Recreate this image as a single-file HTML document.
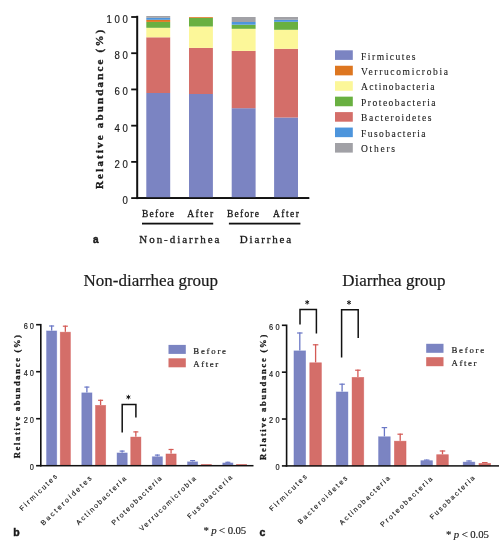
<!DOCTYPE html>
<html><head><meta charset="utf-8"><style>
html,body{margin:0;padding:0;background:#fff;}
body{width:500px;height:544px;overflow:hidden;font-family:"Liberation Sans",sans-serif;}
svg{display:block;will-change:transform;}
</style></head><body>
<svg width="500" height="544" viewBox="0 0 500 544">
<rect width="500" height="544" fill="#fff"/>
<rect x="136.20" y="15.80" width="2.00" height="183.30" fill="#111" />
<rect x="136.20" y="197.20" width="173.00" height="1.80" fill="#111" />
<rect x="131.20" y="197.20" width="6.00" height="1.80" fill="#111" />
<text transform="translate(0,203.9) scale(1,1.1)" x="122.4" y="0" font-family="Liberation Sans" font-size="9.6" fill="#1a1a1a" stroke="#1a1a1a" stroke-width="0.15">0</text>
<rect x="131.20" y="160.98" width="6.00" height="1.80" fill="#111" />
<text transform="translate(0,167.7) scale(1,1.1)" x="114.4 122.4" y="0" font-family="Liberation Sans" font-size="9.6" fill="#1a1a1a" stroke="#1a1a1a" stroke-width="0.15">20</text>
<rect x="131.20" y="124.76" width="6.00" height="1.80" fill="#111" />
<text transform="translate(0,131.5) scale(1,1.1)" x="114.4 122.4" y="0" font-family="Liberation Sans" font-size="9.6" fill="#1a1a1a" stroke="#1a1a1a" stroke-width="0.15">40</text>
<rect x="131.20" y="88.54" width="6.00" height="1.80" fill="#111" />
<text transform="translate(0,95.2) scale(1,1.1)" x="114.4 122.4" y="0" font-family="Liberation Sans" font-size="9.6" fill="#1a1a1a" stroke="#1a1a1a" stroke-width="0.15">60</text>
<rect x="131.20" y="52.32" width="6.00" height="1.80" fill="#111" />
<text transform="translate(0,59.0) scale(1,1.1)" x="114.4 122.4" y="0" font-family="Liberation Sans" font-size="9.6" fill="#1a1a1a" stroke="#1a1a1a" stroke-width="0.15">80</text>
<rect x="131.20" y="16.10" width="6.00" height="1.80" fill="#111" />
<text transform="translate(0,22.8) scale(1,1.1)" x="106.4 114.4 122.4" y="0" font-family="Liberation Sans" font-size="9.6" fill="#1a1a1a" stroke="#1a1a1a" stroke-width="0.15">100</text>
<rect x="146.30" y="93.00" width="23.90" height="105.10" fill="#7b84c2" />
<rect x="146.30" y="37.30" width="23.90" height="55.70" fill="#d46e69" />
<rect x="146.30" y="27.80" width="23.90" height="9.50" fill="#fcf799" />
<rect x="146.30" y="21.90" width="23.90" height="5.90" fill="#69b041" />
<rect x="146.30" y="19.80" width="23.90" height="2.10" fill="#dd7620" />
<rect x="146.30" y="17.80" width="23.90" height="2.00" fill="#4d95dc" />
<rect x="146.30" y="16.00" width="23.90" height="1.80" fill="#a1a1a6" />
<rect x="189.00" y="94.00" width="23.90" height="104.10" fill="#7b84c2" />
<rect x="189.00" y="47.90" width="23.90" height="46.10" fill="#d46e69" />
<rect x="189.00" y="26.50" width="23.90" height="21.40" fill="#fcf799" />
<rect x="189.00" y="18.00" width="23.90" height="8.50" fill="#69b041" />
<rect x="189.00" y="17.20" width="23.90" height="0.80" fill="#dd7620" />
<rect x="231.70" y="108.20" width="23.90" height="89.90" fill="#7b84c2" />
<rect x="231.70" y="50.90" width="23.90" height="57.30" fill="#d46e69" />
<rect x="231.70" y="28.80" width="23.90" height="22.10" fill="#fcf799" />
<rect x="231.70" y="24.70" width="23.90" height="4.10" fill="#69b041" />
<rect x="231.70" y="22.00" width="23.90" height="2.70" fill="#4d95dc" />
<rect x="231.70" y="17.00" width="23.90" height="5.00" fill="#a1a1a6" />
<rect x="274.10" y="117.50" width="23.90" height="80.60" fill="#7b84c2" />
<rect x="274.10" y="48.80" width="23.90" height="68.70" fill="#d46e69" />
<rect x="274.10" y="29.80" width="23.90" height="19.00" fill="#fcf799" />
<rect x="274.10" y="21.80" width="23.90" height="8.00" fill="#69b041" />
<rect x="274.10" y="19.80" width="23.90" height="2.00" fill="#4d95dc" />
<rect x="274.10" y="17.00" width="23.90" height="2.80" fill="#a1a1a6" />
<rect x="136.20" y="197.20" width="173.00" height="1.80" fill="#111" />
<text x="142" y="216.8" font-family="Liberation Serif" font-size="9.5" font-weight="normal" letter-spacing="1.22" text-anchor="start" fill="#1a1a1a" stroke="#1a1a1a" stroke-width="0.3" >Before</text>
<text x="187.3" y="216.8" font-family="Liberation Serif" font-size="9.5" font-weight="normal" letter-spacing="1.45" text-anchor="start" fill="#1a1a1a" stroke="#1a1a1a" stroke-width="0.3" >After</text>
<text x="227.0" y="216.8" font-family="Liberation Serif" font-size="9.5" font-weight="normal" letter-spacing="1.22" text-anchor="start" fill="#1a1a1a" stroke="#1a1a1a" stroke-width="0.3" >Before</text>
<text x="273.0" y="216.8" font-family="Liberation Serif" font-size="9.5" font-weight="normal" letter-spacing="1.45" text-anchor="start" fill="#1a1a1a" stroke="#1a1a1a" stroke-width="0.3" >After</text>
<rect x="142.00" y="222.70" width="71.20" height="1.80" fill="#111" />
<rect x="228.90" y="222.70" width="71.50" height="1.80" fill="#111" />
<text x="139.3" y="242.5" font-family="Liberation Serif" font-size="11" font-weight="normal" letter-spacing="1.95" text-anchor="start" fill="#1a1a1a" stroke="#1a1a1a" stroke-width="0.3" >Non-diarrhea</text>
<text x="239.7" y="242.5" font-family="Liberation Serif" font-size="11" font-weight="normal" letter-spacing="1.87" text-anchor="start" fill="#1a1a1a" stroke="#1a1a1a" stroke-width="0.3" >Diarrhea</text>
<text x="93" y="243" font-family="Liberation Sans" font-size="10" font-weight="bold" letter-spacing="0" text-anchor="start" fill="#1a1a1a" stroke="#1a1a1a" stroke-width="0.45" >a</text>
<text transform="translate(102.5,189.0) rotate(-90)" x="0" y="0" font-family="Liberation Serif" font-size="11" font-weight="bold" letter-spacing="2.17" fill="#1a1a1a" stroke="#1a1a1a" stroke-width="0.35">Relative abundance (%)</text>
<rect x="335.00" y="50.30" width="17.80" height="9.60" fill="#7b84c2" />
<text x="361" y="59.5" font-family="Liberation Serif" font-size="9.5" font-weight="normal" letter-spacing="1.54" text-anchor="start" fill="#1a1a1a" stroke="#1a1a1a" stroke-width="0.1" >Firmicutes</text>
<rect x="335.00" y="65.75" width="17.80" height="9.60" fill="#dd7620" />
<text x="361" y="74.95" font-family="Liberation Serif" font-size="9.5" font-weight="normal" letter-spacing="1.65" text-anchor="start" fill="#1a1a1a" stroke="#1a1a1a" stroke-width="0.1" >Verrucomicrobia</text>
<rect x="335.00" y="81.20" width="17.80" height="9.60" fill="#fcf799" />
<text x="361" y="90.39999999999999" font-family="Liberation Serif" font-size="9.5" font-weight="normal" letter-spacing="1.35" text-anchor="start" fill="#1a1a1a" stroke="#1a1a1a" stroke-width="0.1" >Actinobacteria</text>
<rect x="335.00" y="96.65" width="17.80" height="9.60" fill="#69b041" />
<text x="361" y="105.85" font-family="Liberation Serif" font-size="9.5" font-weight="normal" letter-spacing="1.51" text-anchor="start" fill="#1a1a1a" stroke="#1a1a1a" stroke-width="0.1" >Proteobacteria</text>
<rect x="335.00" y="112.10" width="17.80" height="9.60" fill="#d46e69" />
<text x="361" y="121.3" font-family="Liberation Serif" font-size="9.5" font-weight="normal" letter-spacing="1.57" text-anchor="start" fill="#1a1a1a" stroke="#1a1a1a" stroke-width="0.1" >Bacteroidetes</text>
<rect x="335.00" y="127.55" width="17.80" height="9.60" fill="#4d95dc" />
<text x="361" y="136.75" font-family="Liberation Serif" font-size="9.5" font-weight="normal" letter-spacing="1.45" text-anchor="start" fill="#1a1a1a" stroke="#1a1a1a" stroke-width="0.1" >Fusobacteria</text>
<rect x="335.00" y="143.00" width="17.80" height="9.60" fill="#a1a1a6" />
<text x="361" y="152.2" font-family="Liberation Serif" font-size="9.5" font-weight="normal" letter-spacing="1.73" text-anchor="start" fill="#1a1a1a" stroke="#1a1a1a" stroke-width="0.1" >Others</text>
<rect x="40.00" y="323.90" width="1.60" height="142.60" fill="#111" />
<rect x="36.10" y="464.90" width="4.10" height="1.60" fill="#111" />
<text transform="translate(0,470.1) scale(1,1.18)" x="29.7" y="0" font-family="Liberation Sans" font-size="7.4" fill="#1a1a1a" stroke="#1a1a1a" stroke-width="0.15">0</text>
<rect x="36.10" y="417.90" width="4.10" height="1.60" fill="#111" />
<text transform="translate(0,423.1) scale(1,1.18)" x="23.7 29.7" y="0" font-family="Liberation Sans" font-size="7.4" fill="#1a1a1a" stroke="#1a1a1a" stroke-width="0.15">20</text>
<rect x="36.10" y="370.90" width="4.10" height="1.60" fill="#111" />
<text transform="translate(0,376.1) scale(1,1.18)" x="23.7 29.7" y="0" font-family="Liberation Sans" font-size="7.4" fill="#1a1a1a" stroke="#1a1a1a" stroke-width="0.15">40</text>
<rect x="36.10" y="323.90" width="4.10" height="1.60" fill="#111" />
<text transform="translate(0,329.1) scale(1,1.18)" x="23.7 29.7" y="0" font-family="Liberation Sans" font-size="7.4" fill="#1a1a1a" stroke="#1a1a1a" stroke-width="0.15">60</text>
<rect x="51.00" y="325.40" width="1.30" height="5.20" fill="#6b78c6" />
<rect x="49.15" y="325.40" width="5.00" height="1.20" fill="#6b78c6" />
<rect x="46.55" y="330.95" width="10.20" height="134.75" fill="#7b84c2" stroke="#6b78c6" stroke-opacity="0.55" stroke-width="0.7"/>
<rect x="64.70" y="325.60" width="1.30" height="6.20" fill="#d45a55" />
<rect x="62.85" y="325.60" width="5.00" height="1.20" fill="#d45a55" />
<rect x="60.25" y="332.15" width="10.20" height="133.55" fill="#d46e69" stroke="#d45a55" stroke-opacity="0.55" stroke-width="0.7"/>
<rect x="86.24" y="386.50" width="1.30" height="6.00" fill="#6b78c6" />
<rect x="84.39" y="386.50" width="5.00" height="1.20" fill="#6b78c6" />
<rect x="81.79" y="392.85" width="10.20" height="72.85" fill="#7b84c2" stroke="#6b78c6" stroke-opacity="0.55" stroke-width="0.7"/>
<rect x="99.94" y="399.70" width="1.30" height="5.30" fill="#d45a55" />
<rect x="98.09" y="399.70" width="5.00" height="1.20" fill="#d45a55" />
<rect x="95.49" y="405.35" width="10.20" height="60.35" fill="#d46e69" stroke="#d45a55" stroke-opacity="0.55" stroke-width="0.7"/>
<rect x="121.48" y="450.50" width="1.30" height="2.10" fill="#6b78c6" />
<rect x="119.63" y="450.50" width="5.00" height="1.20" fill="#6b78c6" />
<rect x="117.03" y="452.95" width="10.20" height="12.75" fill="#7b84c2" stroke="#6b78c6" stroke-opacity="0.55" stroke-width="0.7"/>
<rect x="135.18" y="431.30" width="1.30" height="5.40" fill="#d45a55" />
<rect x="133.33" y="431.30" width="5.00" height="1.20" fill="#d45a55" />
<rect x="130.73" y="437.05" width="10.20" height="28.65" fill="#d46e69" stroke="#d45a55" stroke-opacity="0.55" stroke-width="0.7"/>
<rect x="156.72" y="454.50" width="1.30" height="1.90" fill="#6b78c6" />
<rect x="154.87" y="454.50" width="5.00" height="1.20" fill="#6b78c6" />
<rect x="152.27" y="456.75" width="10.20" height="8.95" fill="#7b84c2" stroke="#6b78c6" stroke-opacity="0.55" stroke-width="0.7"/>
<rect x="170.42" y="448.90" width="1.30" height="4.70" fill="#d45a55" />
<rect x="168.57" y="448.90" width="5.00" height="1.20" fill="#d45a55" />
<rect x="165.97" y="453.95" width="10.20" height="11.75" fill="#d46e69" stroke="#d45a55" stroke-opacity="0.55" stroke-width="0.7"/>
<rect x="191.96" y="460.00" width="1.30" height="1.50" fill="#6b78c6" />
<rect x="190.11" y="460.00" width="5.00" height="1.20" fill="#6b78c6" />
<rect x="187.51" y="461.85" width="10.20" height="3.85" fill="#7b84c2" stroke="#6b78c6" stroke-opacity="0.55" stroke-width="0.7"/>
<rect x="201.21" y="464.35" width="10.20" height="1.35" fill="#d46e69" stroke="#d45a55" stroke-opacity="0.55" stroke-width="0.7"/>
<rect x="227.20" y="461.70" width="1.30" height="0.90" fill="#6b78c6" />
<rect x="225.35" y="461.70" width="5.00" height="1.20" fill="#6b78c6" />
<rect x="222.75" y="462.95" width="10.20" height="2.75" fill="#7b84c2" stroke="#6b78c6" stroke-opacity="0.55" stroke-width="0.7"/>
<rect x="236.45" y="464.35" width="10.20" height="1.35" fill="#d46e69" stroke="#d45a55" stroke-opacity="0.55" stroke-width="0.7"/>
<rect x="40.00" y="464.95" width="213.50" height="1.50" fill="#111" />
<text transform="translate(58.8,475.8) rotate(-44)" x="0" y="0" font-family="Liberation Sans" font-size="7.0" letter-spacing="1.86" text-anchor="end" fill="#1a1a1a" stroke="#1a1a1a" stroke-width="0.15">Firmicutes</text>
<text transform="translate(93.4,477.5) rotate(-44)" x="0" y="0" font-family="Liberation Sans" font-size="7.0" letter-spacing="2.05" text-anchor="end" fill="#1a1a1a" stroke="#1a1a1a" stroke-width="0.15">Bacteroidetes</text>
<text transform="translate(127.7,478.2) rotate(-44)" x="0" y="0" font-family="Liberation Sans" font-size="7.0" letter-spacing="1.69" text-anchor="end" fill="#1a1a1a" stroke="#1a1a1a" stroke-width="0.15">Actinobacteria</text>
<text transform="translate(163.3,478.0) rotate(-44)" x="0" y="0" font-family="Liberation Sans" font-size="7.0" letter-spacing="1.62" text-anchor="end" fill="#1a1a1a" stroke="#1a1a1a" stroke-width="0.15">Proteobacteria</text>
<text transform="translate(197.5,478.0) rotate(-44)" x="0" y="0" font-family="Liberation Sans" font-size="7.0" letter-spacing="1.77" text-anchor="end" fill="#1a1a1a" stroke="#1a1a1a" stroke-width="0.15">Verrucomicrobia</text>
<text transform="translate(233.9,476.8) rotate(-44)" x="0" y="0" font-family="Liberation Sans" font-size="7.0" letter-spacing="1.7" text-anchor="end" fill="#1a1a1a" stroke="#1a1a1a" stroke-width="0.15">Fusobacteria</text>
<text x="83.6" y="285.6" font-family="Liberation Serif" font-size="17.0" font-weight="normal" letter-spacing="0" text-anchor="start" fill="#1a1a1a" stroke="#1a1a1a" stroke-width="0.2" >Non-diarrhea group</text>
<rect x="168.50" y="344.90" width="17.30" height="9.00" fill="#7b84c2" />
<rect x="168.50" y="358.30" width="17.30" height="9.00" fill="#d46e69" />
<text x="193.3" y="353.7" font-family="Liberation Serif" font-size="8.8" font-weight="normal" letter-spacing="1.75" text-anchor="start" fill="#1a1a1a" stroke="#1a1a1a" stroke-width="0.2" >Before</text>
<text x="193.3" y="366.9" font-family="Liberation Serif" font-size="8.8" font-weight="normal" letter-spacing="1.6" text-anchor="start" fill="#1a1a1a" stroke="#1a1a1a" stroke-width="0.2" >After</text>
<path d="M122.2,432.6 V404.4 H135.9 V417.6" fill="none" stroke="#111" stroke-width="1.5"/>
<path d="M128.40,395.25L128.40,398.95M126.80,396.17L130.00,398.02M130.00,396.17L126.80,398.02" stroke="#111" stroke-width="0.95" stroke-linecap="round" fill="none"/>
<text x="13.3" y="535.6" font-family="Liberation Sans" font-size="10.5" font-weight="bold" letter-spacing="0" text-anchor="start" fill="#1a1a1a" stroke="#1a1a1a" stroke-width="0.45" >b</text>
<text x="203.4" y="534" font-family="Liberation Serif" font-size="10.8" letter-spacing="-0.12" fill="#1a1a1a" stroke="#1a1a1a" stroke-width="0.15">* <tspan font-style="italic">p</tspan> &lt; 0.05</text>
<text transform="translate(20.3,458.2) rotate(-90)" x="0" y="0" font-family="Liberation Serif" font-size="8.5" font-weight="bold" letter-spacing="1.68" fill="#1a1a1a" stroke="#1a1a1a" stroke-width="0.3">Relative abundance (%)</text>
<rect x="285.80" y="324.50" width="1.60" height="142.20" fill="#111" />
<rect x="281.90" y="465.10" width="4.10" height="1.60" fill="#111" />
<text transform="translate(0,470.3) scale(1,1.18)" x="275.4" y="0" font-family="Liberation Sans" font-size="7.4" fill="#1a1a1a" stroke="#1a1a1a" stroke-width="0.15">0</text>
<rect x="281.90" y="418.23" width="4.10" height="1.60" fill="#111" />
<text transform="translate(0,423.4) scale(1,1.18)" x="269.0 275.4" y="0" font-family="Liberation Sans" font-size="7.4" fill="#1a1a1a" stroke="#1a1a1a" stroke-width="0.15">20</text>
<rect x="281.90" y="371.37" width="4.10" height="1.60" fill="#111" />
<text transform="translate(0,376.6) scale(1,1.18)" x="269.0 275.4" y="0" font-family="Liberation Sans" font-size="7.4" fill="#1a1a1a" stroke="#1a1a1a" stroke-width="0.15">40</text>
<rect x="281.90" y="324.50" width="4.10" height="1.60" fill="#111" />
<text transform="translate(0,329.7) scale(1,1.18)" x="269.0 275.4" y="0" font-family="Liberation Sans" font-size="7.4" fill="#1a1a1a" stroke="#1a1a1a" stroke-width="0.15">60</text>
<rect x="299.15" y="332.40" width="1.30" height="18.10" fill="#6b78c6" />
<rect x="297.05" y="332.40" width="5.50" height="1.20" fill="#6b78c6" />
<rect x="293.95" y="350.85" width="11.70" height="115.05" fill="#7b84c2" stroke="#6b78c6" stroke-opacity="0.55" stroke-width="0.7"/>
<rect x="314.95" y="344.20" width="1.30" height="18.20" fill="#d45a55" />
<rect x="312.85" y="344.20" width="5.50" height="1.20" fill="#d45a55" />
<rect x="309.75" y="362.75" width="11.70" height="103.15" fill="#d46e69" stroke="#d45a55" stroke-opacity="0.55" stroke-width="0.7"/>
<rect x="341.45" y="383.60" width="1.30" height="8.00" fill="#6b78c6" />
<rect x="339.35" y="383.60" width="5.50" height="1.20" fill="#6b78c6" />
<rect x="336.25" y="391.95" width="11.70" height="73.95" fill="#7b84c2" stroke="#6b78c6" stroke-opacity="0.55" stroke-width="0.7"/>
<rect x="357.25" y="369.60" width="1.30" height="7.40" fill="#d45a55" />
<rect x="355.15" y="369.60" width="5.50" height="1.20" fill="#d45a55" />
<rect x="352.05" y="377.35" width="11.70" height="88.55" fill="#d46e69" stroke="#d45a55" stroke-opacity="0.55" stroke-width="0.7"/>
<rect x="383.75" y="427.00" width="1.30" height="9.40" fill="#6b78c6" />
<rect x="381.65" y="427.00" width="5.50" height="1.20" fill="#6b78c6" />
<rect x="378.55" y="436.75" width="11.70" height="29.15" fill="#7b84c2" stroke="#6b78c6" stroke-opacity="0.55" stroke-width="0.7"/>
<rect x="399.55" y="433.60" width="1.30" height="7.20" fill="#d45a55" />
<rect x="397.45" y="433.60" width="5.50" height="1.20" fill="#d45a55" />
<rect x="394.35" y="441.15" width="11.70" height="24.75" fill="#d46e69" stroke="#d45a55" stroke-opacity="0.55" stroke-width="0.7"/>
<rect x="426.05" y="459.50" width="1.30" height="0.80" fill="#6b78c6" />
<rect x="423.95" y="459.50" width="5.50" height="1.20" fill="#6b78c6" />
<rect x="420.85" y="460.65" width="11.70" height="5.25" fill="#7b84c2" stroke="#6b78c6" stroke-opacity="0.55" stroke-width="0.7"/>
<rect x="441.85" y="450.40" width="1.30" height="3.90" fill="#d45a55" />
<rect x="439.75" y="450.40" width="5.50" height="1.20" fill="#d45a55" />
<rect x="436.65" y="454.65" width="11.70" height="11.25" fill="#d46e69" stroke="#d45a55" stroke-opacity="0.55" stroke-width="0.7"/>
<rect x="468.35" y="460.40" width="1.30" height="1.30" fill="#6b78c6" />
<rect x="466.25" y="460.40" width="5.50" height="1.20" fill="#6b78c6" />
<rect x="463.15" y="462.05" width="11.70" height="3.85" fill="#7b84c2" stroke="#6b78c6" stroke-opacity="0.55" stroke-width="0.7"/>
<rect x="484.15" y="462.00" width="1.30" height="1.00" fill="#d45a55" />
<rect x="482.05" y="462.00" width="5.50" height="1.20" fill="#d45a55" />
<rect x="478.95" y="463.35" width="11.70" height="2.55" fill="#d46e69" stroke="#d45a55" stroke-opacity="0.55" stroke-width="0.7"/>
<rect x="285.80" y="465.15" width="213.20" height="1.50" fill="#111" />
<text transform="translate(308.6,476.1) rotate(-44)" x="0" y="0" font-family="Liberation Sans" font-size="7.0" letter-spacing="1.86" text-anchor="end" fill="#1a1a1a" stroke="#1a1a1a" stroke-width="0.15">Firmicutes</text>
<text transform="translate(349.2,477.5) rotate(-44)" x="0" y="0" font-family="Liberation Sans" font-size="7.0" letter-spacing="1.91" text-anchor="end" fill="#1a1a1a" stroke="#1a1a1a" stroke-width="0.15">Bacteroidetes</text>
<text transform="translate(391.7,477.5) rotate(-44)" x="0" y="0" font-family="Liberation Sans" font-size="7.0" letter-spacing="1.77" text-anchor="end" fill="#1a1a1a" stroke="#1a1a1a" stroke-width="0.15">Actinobacteria</text>
<text transform="translate(434.0,478.2) rotate(-44)" x="0" y="0" font-family="Liberation Sans" font-size="7.0" letter-spacing="1.8" text-anchor="end" fill="#1a1a1a" stroke="#1a1a1a" stroke-width="0.15">Proteobacteria</text>
<text transform="translate(476.4,477.4) rotate(-44)" x="0" y="0" font-family="Liberation Sans" font-size="7.0" letter-spacing="1.72" text-anchor="end" fill="#1a1a1a" stroke="#1a1a1a" stroke-width="0.15">Fusobacteria</text>
<text x="342.2" y="285.6" font-family="Liberation Serif" font-size="17.0" font-weight="normal" letter-spacing="0" text-anchor="start" fill="#1a1a1a" stroke="#1a1a1a" stroke-width="0.2" >Diarrhea group</text>
<rect x="426.20" y="343.80" width="17.30" height="9.00" fill="#7b84c2" />
<rect x="426.20" y="357.20" width="17.30" height="9.00" fill="#d46e69" />
<text x="451.5" y="352.6" font-family="Liberation Serif" font-size="8.8" font-weight="normal" letter-spacing="1.75" text-anchor="start" fill="#1a1a1a" stroke="#1a1a1a" stroke-width="0.2" >Before</text>
<text x="451.5" y="365.8" font-family="Liberation Serif" font-size="8.8" font-weight="normal" letter-spacing="1.6" text-anchor="start" fill="#1a1a1a" stroke="#1a1a1a" stroke-width="0.2" >After</text>
<path d="M300.0,324.4 V309.6 H316.4 V333.4" fill="none" stroke="#111" stroke-width="1.5"/>
<path d="M307.20,300.45L307.20,304.15M305.60,301.38L308.80,303.23M308.80,301.38L305.60,303.23" stroke="#111" stroke-width="0.95" stroke-linecap="round" fill="none"/>
<path d="M341.6,357.6 V309.8 H358.2 V338.0" fill="none" stroke="#111" stroke-width="1.5"/>
<path d="M349.00,300.65L349.00,304.35M347.40,301.57L350.60,303.43M350.60,301.57L347.40,303.43" stroke="#111" stroke-width="0.95" stroke-linecap="round" fill="none"/>
<text x="259.5" y="535.6" font-family="Liberation Sans" font-size="10.5" font-weight="bold" letter-spacing="0" text-anchor="start" fill="#1a1a1a" stroke="#1a1a1a" stroke-width="0.45" >c</text>
<text x="446.0" y="537.5" font-family="Liberation Serif" font-size="10.8" letter-spacing="-0.12" fill="#1a1a1a" stroke="#1a1a1a" stroke-width="0.15">* <tspan font-style="italic">p</tspan> &lt; 0.05</text>
<text transform="translate(266.1,460.0) rotate(-90)" x="0" y="0" font-family="Liberation Serif" font-size="8.5" font-weight="bold" letter-spacing="1.78" fill="#1a1a1a" stroke="#1a1a1a" stroke-width="0.3">Relative abundance (%)</text>
</svg>
</body></html>
